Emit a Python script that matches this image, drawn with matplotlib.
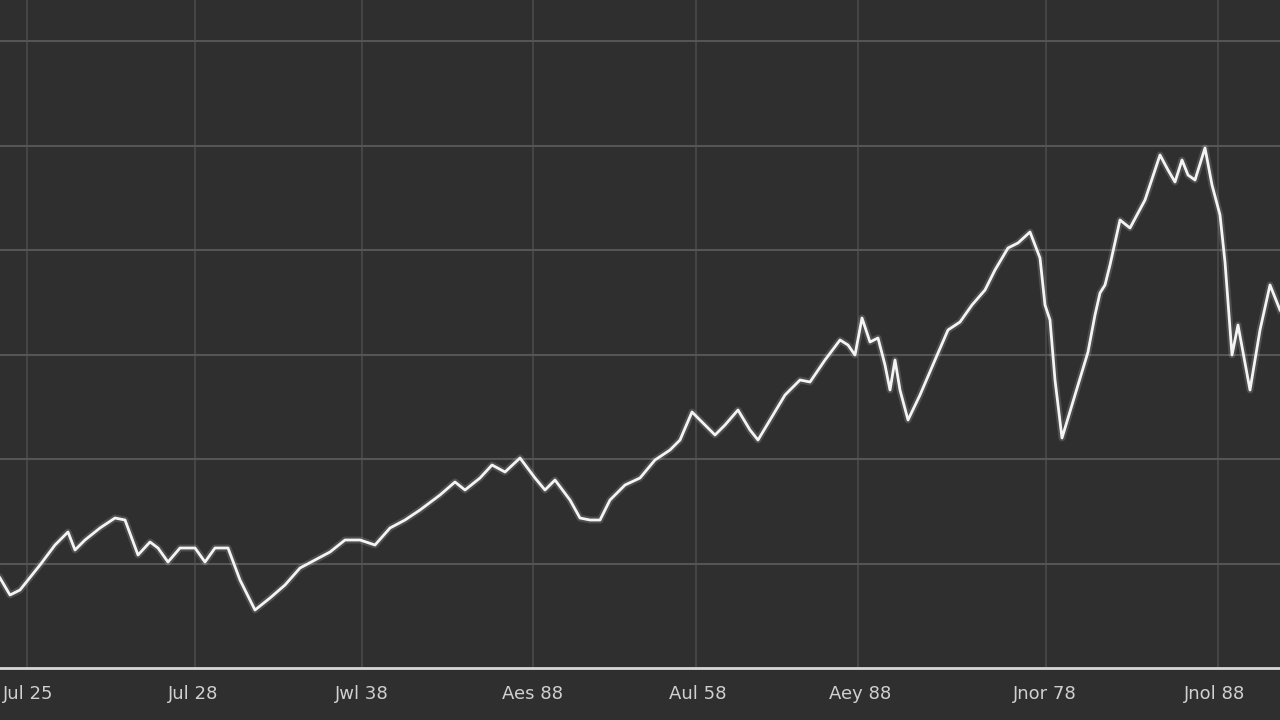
import matplotlib
matplotlib.use("Agg")
import matplotlib.pyplot as plt

# x positions (0-1280 span) and heights above the baseline
xs = [0, 10, 20, 40, 55, 68, 75, 85, 100, 115, 125, 138, 150, 158, 168, 180, 195, 205, 215, 228,
      240, 255, 270, 285, 300, 315, 330, 345, 360, 375, 390, 405, 420, 440, 455, 465, 480, 492,
      505, 520, 535, 545, 555, 570, 580, 590, 600, 610, 625, 640, 655, 670, 680, 692, 705, 715,
      725, 738, 750, 758, 770, 785, 800, 810, 825, 840, 848, 855, 862, 870, 878, 885, 890, 895,
      900, 908, 920, 935, 948, 960, 972, 985, 995, 1008, 1018, 1030, 1040, 1045, 1050, 1055,
      1062, 1075, 1088, 1095, 1100, 1105, 1110, 1120, 1130, 1145, 1160, 1168, 1175, 1182, 1188,
      1195, 1205, 1212, 1220, 1225, 1232, 1238, 1250, 1260, 1270, 1280]
py = [578, 595, 590, 565, 545, 532, 550, 540, 528, 518, 520, 555, 542, 548, 562, 548, 548, 562,
      548, 548, 580, 610, 598, 585, 568, 560, 552, 540, 540, 545, 528, 520, 510, 495, 482, 490,
      478, 465, 472, 458, 478, 490, 480, 500, 518, 520, 520, 500, 485, 478, 460, 450, 440, 412,
      425, 435, 425, 410, 430, 440, 420, 395, 380, 382, 360, 340, 345, 355, 318, 342, 338, 365,
      390, 360, 390, 420, 395, 360, 330, 322, 305, 290, 270, 248, 243, 232, 258, 305, 320, 380,
      438, 395, 352, 315, 293, 285, 265, 220, 228, 200, 155, 170, 182, 160, 175, 180, 148, 185,
      215, 262, 355, 325, 390, 330, 285, 310]
values = [(668 - p) / 104.5 for p in py]

grid_x = [27, 195, 362, 533, 696, 858, 1046, 1218]
tick_x = [28, 193, 362, 532, 698, 860, 1045, 1215]
tick_labels = ["Jul 25", "Jul 28", "Jwl 38", "Aes 88", "Aul 58", "Aey 88", "Jnor 78", "Jnol 88"]

bg = "#2f2f2f"
fig = plt.figure(figsize=(12.8, 7.2), dpi=100, facecolor=bg)
ax = fig.add_axes([0, 52 / 720, 1, 668 / 720])
ax.set_facecolor(bg)
ax.set_xlim(0, 1280)
ax.set_ylim(0, 668 / 104.5)

for gx in grid_x:
    ax.axvline(gx, color="#4a4a4a", lw=1.2, zorder=1)
for k in range(1, 7):
    ax.axhline(k * 1.0, color="#555555", lw=1.5, zorder=1)

ax.plot(xs, values, color="white", lw=5, alpha=0.15, zorder=2)
ax.plot(xs, values, color="#f4f4f4", lw=2, zorder=3)

for s in ["top", "right", "left"]:
    ax.spines[s].set_visible(False)
ax.spines["bottom"].set_color("#d8d8d8")
ax.spines["bottom"].set_linewidth(2)
ax.set_yticks([])
ax.set_xticks(tick_x)
ax.set_xticklabels(tick_labels, color="#d0d0d0", fontsize=13)
ax.tick_params(axis="x", length=0, pad=12)

fig.savefig("out.png", dpi=100, facecolor=bg)
